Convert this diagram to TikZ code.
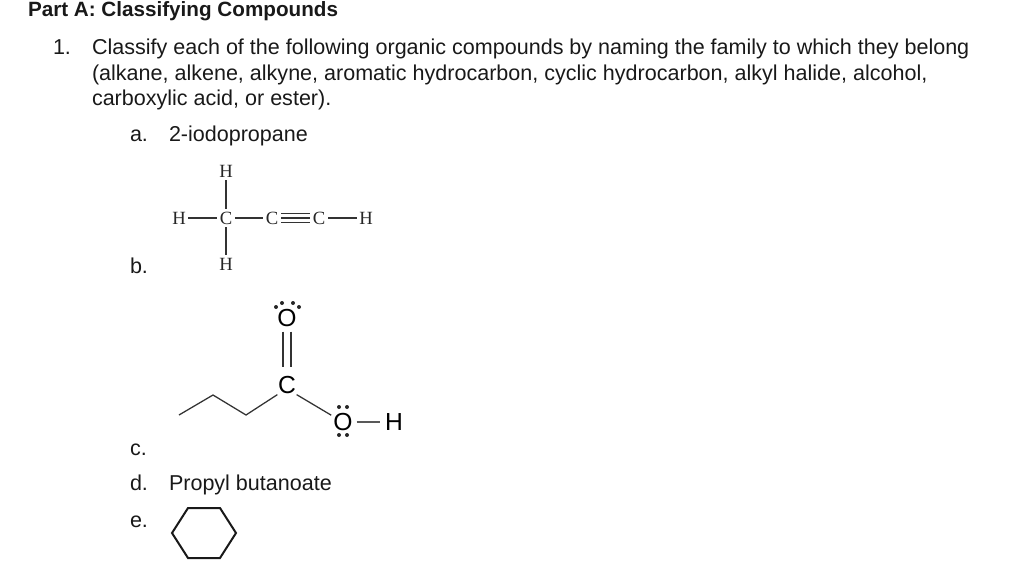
\documentclass[tikz,border=0pt]{standalone}
\usepackage{fontspec}
\setmainfont{Liberation Sans}
\newfontfamily\serifatom{Liberation Serif}
\usepackage{tikz}
\tikzset{
  linetext/.style={anchor=base west,inner sep=0pt,outer sep=0pt,text=black!90,font=\fontsize{16.15pt}{18pt}\selectfont},
  headtext/.style={linetext,font=\fontsize{15.5pt}{18pt}\selectfont\bfseries},
  smallatom/.style={shape=circle,draw=none,inner sep=0pt,minimum size=13pt,text=black!85,font=\fontsize{14pt}{16pt}\serifatom},
  bigatom/.style={shape=circle,draw=none,inner sep=0pt,minimum size=20pt,text=black,font=\fontsize{18.5pt}{20pt}\selectfont},
  bond/.style={line width=0.95pt,black!80},
  ringbond/.style={line width=1.5pt,black!90},
  pairdot/.style={shape=circle,fill=black!85,inner sep=0pt,minimum size=3pt}
}
\newcommand{\lablline}[4]{\node[linetext] (#1) at ( #2 , #3 ) {#4};}
\newcommand{\lablsmall}[4]{\node[smallatom] (#1) at ( #2 , #3 ) {#4};}
\newcommand{\lablbig}[4]{\node[bigatom] (#1) at ( #2 , #3 ) {#4};}
\newcommand{\labldot}[3]{\node[pairdot] (#1) at ( #2 , #3 ) {};}
\begin{document}
\begin{tikzpicture}[x=0.75pt,y=-0.75pt]
    \useasboundingbox (0,0) rectangle (1024,582);

    \node[headtext] (head) at (28,16) {Part A: Classifying Compounds};
    \lablline{num}{53}{54}{1.}
    \lablline{lineA}{92}{54}{Classify each of the following organic compounds by naming the family to which they belong}
    \lablline{lineB}{92}{80}{(alkane, alkene, alkyne, aromatic hydrocarbon, cyclic hydrocarbon, alkyl halide, alcohol,}
    \lablline{lineC}{92}{105}{carboxylic acid, or ester).}
    \lablline{itemA}{130}{141}{a.}
    \lablline{nameA}{169}{141}{2-iodopropane}
    \lablline{itemB}{130}{273}{b.}
    \lablline{itemC}{130}{455}{c.}
    \lablline{itemD}{130}{490}{d.}
    \lablline{nameD}{169}{490}{Propyl butanoate}
    \lablline{itemE}{130}{527}{e.}

    % propyne
    \lablsmall{hTop}{226}{171}{H}
    \lablsmall{hLeft}{179}{218}{H}
    \lablsmall{cOne}{226}{218}{C}
    \lablsmall{cTwo}{272}{218}{C}
    \lablsmall{cThree}{319}{218}{C}
    \lablsmall{hRight}{366}{218}{H}
    \lablsmall{hBot}{226}{264}{H}
    \draw[bond] (hTop) -- (cOne);
    \draw[bond] (hLeft) -- (cOne);
    \draw[bond] (cOne) -- (hBot);
    \draw[bond] (cOne) -- (cTwo);
    \draw[bond] (cThree) -- (hRight);
    \foreach \s in {-4.5,0,4.5}
        \draw[bond] ([yshift=\s*0.75pt]cTwo.east) -- ([yshift=\s*0.75pt]cThree.west);

    % acid
    \lablbig{oTop}{287}{318}{O}
    \lablbig{cAcid}{287}{385}{C}
    \lablbig{oSide}{343}{422}{O}
    \lablbig{hAcid}{394}{422}{H}
    \coordinate (zA) at (179,415);
    \coordinate (zB) at (213,395);
    \coordinate (zC) at (246,415);
    \draw[bond] (zA) -- (zB) -- (zC) -- (cAcid.225);
    \draw[bond] (cAcid.-45) -- (oSide.150);
    \draw[bond,line width=1.4pt,black!65] (oSide) -- (hAcid);
    \foreach \s in {-4,4}
        \draw[bond,shorten >=3pt] ([xshift=\s*0.75pt]oTop.south) -- ([xshift=\s*0.75pt]cAcid.north);
    \labldot{dA}{276}{307} \labldot{dB}{282}{303} \labldot{dC}{293}{303} \labldot{dD}{299}{307}
    \labldot{dE}{339}{407} \labldot{dF}{347}{407} \labldot{dG}{339}{435} \labldot{dH}{347}{435}

    % ring
    \draw[ringbond] (188,508) -- (220,508) -- (236,533) -- (220,558) -- (188,558) -- (172,533) -- cycle;
\end{tikzpicture}
\end{document}
